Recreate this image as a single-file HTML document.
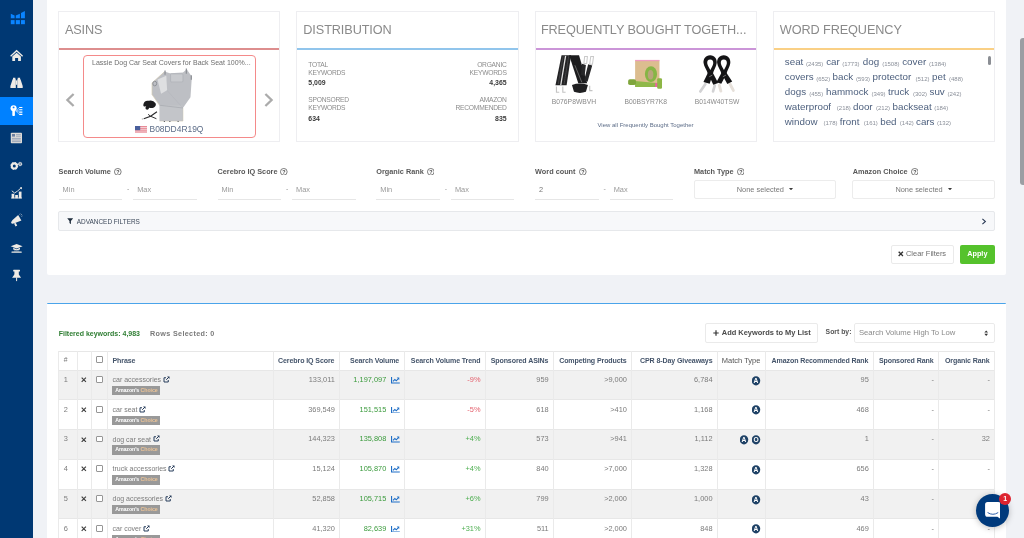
<!DOCTYPE html>
<html lang="en">
<head>
<meta charset="utf-8">
<title>Cerebro</title>
<style>
*{box-sizing:border-box;margin:0;padding:0}
html,body{width:1024px;height:538px;overflow:hidden;background:#f0f2f6;font-family:"Liberation Sans",sans-serif;color:#555;-webkit-font-smoothing:antialiased}
#wrap{position:absolute;left:0;top:0;width:1024px;height:538px;overflow:hidden;filter:blur(0.3px);will-change:transform}
.abs{position:absolute}
#side{position:absolute;left:0;top:0;width:33px;height:538px;background:#003873}
#side .act{position:absolute;left:0;top:97px;width:33px;height:28px;background:#0081ff}
#side svg{position:absolute;left:0;top:0}
#p1{position:absolute;left:47px;top:-3px;width:959px;height:277.6px;background:#fff;border-radius:2px}
#p2{position:absolute;left:47px;top:303px;width:959px;height:240px;background:#fff;border-top:1px solid #4aa4ea;border-radius:1px 1px 0 0}
.card{position:absolute;top:11px;width:222px;height:131px;background:#fff;border:1px solid #eeeef1}
.card h3{position:absolute;left:5.3px;top:11px;font-size:12.7px;font-weight:400;color:#8a8a8a;white-space:nowrap;letter-spacing:-0.1px}
.card .bar{position:absolute;left:0;right:0;top:36px;height:2px}
.t{position:absolute;white-space:nowrap;line-height:1}

.lbl{position:absolute;font-size:6.7px;line-height:8px;color:#8c8c8c;white-space:nowrap;letter-spacing:-0.25px}
.val{position:absolute;font-size:6.9px;font-weight:700;color:#3a3a3a;white-space:nowrap;line-height:1}
.r{text-align:right}
.asin{position:absolute;font-size:6.75px;color:#8a8a8a;white-space:nowrap;line-height:1;text-align:center;width:60px}
.ww{position:absolute;font-weight:400;font-size:9.8px;color:#4c5f7d;white-space:nowrap;line-height:1}
.wn{position:absolute;font-style:normal;font-size:6px;color:#8a8f99;white-space:nowrap;line-height:1}
.wf{position:absolute;left:785px;font-size:10.1px;color:#4c5f7d;white-space:nowrap;line-height:1;word-spacing:-0.5px}
.wf i{font-style:normal;font-size:6px;color:#8a8f99;position:relative;top:-0.3px;margin:0 1px 0 2px}

.fl{position:absolute;top:167.8px;font-size:7.3px;font-weight:700;color:#585858;white-space:nowrap;line-height:1}
.q{position:absolute;top:167.5px;width:7.5px;height:7.5px;border:0.8px solid #555;border-radius:50%;font-size:5.5px;line-height:6.1px;text-align:center;color:#444;font-weight:700}
.inp{position:absolute;top:182px;height:17.6px;width:63.5px;border-bottom:1px solid #e6e6e6;font-size:7.4px;color:#999;line-height:15.3px;padding-left:4px}
.dash{position:absolute;top:185.2px;font-size:7px;color:#999;line-height:1}
.sel{position:absolute;top:180px;height:19px;width:142.5px;border:1px solid #ececec;border-radius:2px;font-size:7.4px;color:#777;line-height:17.5px;text-align:center;background:#fff}
.btn{position:absolute;border:1px solid #eaeaea;border-radius:2px;background:#fff;white-space:nowrap}

.th{position:absolute;top:356.7px;font-size:7.05px;font-weight:700;color:#44546a;white-space:nowrap;line-height:1;letter-spacing:-0.1px}
.row{position:absolute;left:58.3px;width:936.4px;height:29.75px;border-top:1px solid #e7e7e7}
.row.o{background:#f1f1f1}
.c{position:absolute;top:5.4px;font-size:7.4px;color:#7b7b7b;white-space:nowrap;line-height:1}
.c.ph{font-size:7px;top:5.6px}
.c.g{color:#3a9a3c}.c.rd{color:#e4606d}.c.gr{color:#4cae4f}
.vl{position:absolute;top:350.7px;width:1px;height:190px;background:#eaeaea}
.cb{position:absolute;width:6.6px;height:6.6px;border:0.8px solid #969696;border-radius:1px;background:#fff}
.bdg{position:absolute;left:54.2px;top:15.3px;width:47.8px;height:9.4px;background:#999;font-size:5.3px;font-weight:700;color:#fff;line-height:9.4px;text-align:center;white-space:nowrap;letter-spacing:-0.1px}
.bdg span{color:#ebc397}
.mt{position:absolute;top:5.2px;width:8.6px;height:9.4px;border-radius:50%;background:#1f4266;color:#fff;font-size:6.9px;font-weight:700;line-height:9.6px;text-align:center}
</style>
</head>
<body>
<div id="wrap">
<div id="side">
  <div class="act"></div>
  <svg width="33" height="300" viewBox="0 0 33 300">
    <!-- logo -->
    <g fill="#0a84ff">
      <rect x="10.8" y="20.1" width="3.8" height="4.1"/><rect x="15.8" y="20.1" width="4.1" height="4.1"/><rect x="21" y="20.1" width="3.9" height="4.1"/>
      <path d="M10.8 13.8 L14.6 15.6 V18.2 H10.8 Z"/><path d="M15.8 15.6 L19.9 13.8 V18.2 H15.8 Z"/><path d="M21 13 L24.9 11 V18.2 H21 Z"/>
    </g>
    <g fill="#efebe6" stroke="none">
      <!-- home -->
      <path d="M10.6 56.2 L16.6 50.7 L22.6 56.2" fill="none" stroke="#efebe6" stroke-width="1.3"/>
      <path d="M12.3 56.6 L16.6 52.8 L20.9 56.6 V61 H18.1 V57.9 H15.1 V61 H12.3 Z"/>
      <!-- binoculars -->
      <path d="M13 77.7 h2.4 v1.6 h0.4 v8.8 h-5.4 v-2 l2.2 -6.8 h0.4 Z"/>
      <path d="M20.1 77.7 h-2.4 v1.6 h-0.4 v8.8 h5.4 v-2 l-2.2 -6.8 h-0.4 Z"/>
      <rect x="15.8" y="80.4" width="1.5" height="4.4"/>
      <!-- key -->
      <circle cx="13.6" cy="108.3" r="3.05" fill="#fff"/>
      <rect x="12.3" y="110" width="2.6" height="5.9" rx="0.7" fill="#fff"/>
      <circle cx="13.6" cy="107.4" r="0.95" fill="#0081ff"/>
      <path d="M15.8 111 L19.4 107.6 M15.8 111 L19.4 109.9 M15.8 111 L19.4 112.2 M15.8 111 L19.4 114.5" stroke="#a9d3ff" stroke-width="0.7" fill="none"/>
      <path d="M19.2 107.5 H22.4 M19.2 109.8 H22.4 M19.2 112.1 H22.4 M19.2 114.4 H22.4" stroke="#fff" stroke-width="1.1" fill="none"/>
      <!-- newspaper -->
      <rect x="10.8" y="132.7" width="11.2" height="10.6" rx="0.8" fill="#dcdad7"/>
      <rect x="12" y="134" width="3" height="2.6" fill="#6b7f9f"/>
      <path d="M16 134.6 H20.8 M16 136.2 H20.8 M12 138.4 H20.8 M12 140 H20.8 M12 141.6 H20.8" stroke="#8b9ab3" stroke-width="0.8" fill="none"/>
      <!-- gears -->
      <circle cx="14.3" cy="165.9" r="2.55" fill="none" stroke="#efebe6" stroke-width="2.1"/>
      <circle cx="14.3" cy="165.9" r="3.3" fill="none" stroke="#efebe6" stroke-width="1.2" stroke-dasharray="1.3 1.29"/>
      <circle cx="20.1" cy="164" r="1.3" fill="none" stroke="#efebe6" stroke-width="1.1"/>
      <circle cx="20.1" cy="164" r="1.8" fill="none" stroke="#efebe6" stroke-width="0.7" stroke-dasharray="0.7 0.71"/>
      <!-- chart -->
      <rect x="11.6" y="193.8" width="2.7" height="4.5"/><rect x="15.2" y="195" width="2.7" height="3.3"/><rect x="18.8" y="191.6" width="2.7" height="6.7"/>
      <rect x="11.1" y="197.6" width="10.9" height="0.8"/>
      <path d="M11.8 190.8 L14.6 193 L17.6 191 L21.2 187.8" fill="none" stroke="#efebe6" stroke-width="0.9"/>
      <path d="M19.8 187.2 H22 V189.4 Z"/>
      <!-- megaphone -->
      <path d="M12 220.4 L18.2 215 L21.4 220.6 L13.8 223.6 Z"/>
      <path d="M14 223.6 L15.6 226.4 L17.2 225.5 L15.8 222.9 Z"/>
      <circle cx="12.6" cy="222.4" r="1.4"/>
      <path d="M19.6 214.6 l0.6 -1 M21.4 216.4 l1 -0.5 M20.8 215.2 l1 -1" stroke="#efebe6" stroke-width="0.6"/>
      <!-- grad cap -->
      <path d="M16.6 243.9 L22.6 246.2 L16.6 248.5 L10.7 246.2 Z"/>
      <path d="M13.2 247.8 L16.6 249.2 L20 247.8 V249.6 Q16.6 251 13.2 249.6 Z"/>
      <rect x="11.4" y="251.5" width="10.4" height="1.2" rx="0.4"/>
      <rect x="14" y="250.6" width="5.2" height="0.7" opacity=".7"/>
      <!-- pin -->
      <rect x="13.2" y="269.8" width="6.8" height="1.7" rx="0.5"/>
      <rect x="14.4" y="271" width="4.4" height="4.4"/>
      <path d="M14.4 274.6 H18.8 L21.1 277.7 H12.1 Z"/>
      <rect x="16.1" y="277.4" width="1" height="3.7"/>
    </g>
  </svg>
</div>
<div id="p1">
</div>
<!-- CARDS -->
<div class="card" style="left:58px"><h3 style="left:5.9px">ASINS</h3><div class="bar" style="background:#dd8e8e"></div></div>
<div class="card" style="left:296px;width:222.6px"><h3 style="left:6.3px">DISTRIBUTION</h3><div class="bar" style="background:#91c5ec"></div></div>
<div class="card" style="left:535px"><h3 style="left:4.9px">FREQUENTLY BOUGHT TOGETH...</h3><div class="bar" style="background:#cb95d8"></div></div>
<div class="card" style="left:773px"><h3 style="left:5.8px">WORD FREQUENCY</h3><div class="bar" style="background:#fad085"></div></div>

<!-- ASIN card content -->
<div class="abs" style="left:83px;top:55px;width:173px;height:83px;border:1px solid #f48a8a;border-radius:4px"></div>
<div class="t" style="left:92px;top:58.9px;font-size:7.03px;color:#6f6f6f">Lassie Dog Car Seat Covers for Back Seat 100%...</div>
<svg class="abs" style="left:64px;top:91px" width="14" height="18" viewBox="0 0 14 18"><path d="M9.6 3 L3.4 9 L9.6 15" fill="none" stroke="#ababab" stroke-width="2.3"/></svg>
<svg class="abs" style="left:261px;top:91px" width="14" height="18" viewBox="0 0 14 18"><path d="M4.4 3 L10.6 9 L4.4 15" fill="none" stroke="#ababab" stroke-width="2.3"/></svg>
<svg class="abs" style="left:130px;top:64px" width="80" height="74" viewBox="0 0 582 538">
  <path d="M250 55 L290 68 L385 62 L413 38 L450 92 L440 242 L385 320 L385 415 L215 415 L215 300 L160 222 L160 138 Z" fill="#bdbfc4"/>
  <path d="M160 138 L250 58 M160 222 L215 300 M160 138 V222" stroke="#d6cdb6" stroke-width="5" fill="none"/>
  <path d="M385 320 V415 H215" stroke="#cfc6a8" stroke-width="4" fill="none"/>
  <path d="M200 112 L264 86 L270 190 L226 216 Z" fill="#dedfe1"/>
  <rect x="295" y="72" width="90" height="58" rx="6" fill="#c8cace" stroke="#a9acb2" stroke-width="4"/>
  <rect x="217" y="302" width="166" height="111" fill="#c3c5c9"/>
  <path d="M215 300 L385 320" stroke="#a5a8ae" stroke-width="5"/>
  <path d="M268 190 L385 320" stroke="#aaadb3" stroke-width="4" opacity=".55"/>
  <path d="M255 48 v30 M410 33 v38 M446 82 v32" stroke="#8d9096" stroke-width="9"/>
  <path d="M250 415 v6 M290 415 v6 M350 415 v6" stroke="#55585e" stroke-width="8"/>
  <ellipse cx="180" cy="142" rx="14" ry="17" fill="none" stroke="#8d9096" stroke-width="7"/>
  <path d="M98 290 q10 -30 40 -22 q30 -8 48 18 q8 18 -12 30 q-18 8 -34 2 q-8 22 -26 10 q-4 -12 4 -20 q-26 6 -20 -18z" fill="#1d1d1f"/>
  <path d="M100 398 L150 380 L196 348" stroke="#2a2a2c" stroke-width="9" fill="none"/>
  <path d="M150 380 l42 18 M150 380 l-18 -14" stroke="#2a2a2c" stroke-width="7"/>
  <path d="M96 398 l-10 4" stroke="#b5b5b5" stroke-width="8"/>
</svg>
<svg class="abs" style="left:135px;top:125.5px" width="12" height="7.6" viewBox="0 0 12 7.6"><rect width="12" height="7.6" fill="#e88b97"/><rect y="1.1" width="12" height="1" fill="#f6d5d9"/><rect y="3.3" width="12" height="1" fill="#f6d5d9"/><rect y="5.5" width="12" height="1" fill="#f6d5d9"/><rect width="5.2" height="4.2" fill="#4a5f9c"/></svg>
<div class="t" style="left:149.5px;top:125px;font-size:8.45px;color:#5d6d88">B08DD4R19Q</div>

<!-- DISTRIBUTION content -->
<div class="lbl" style="left:308.3px;top:60.5px">TOTAL<br>KEYWORDS</div>
<div class="val" style="left:308.3px;top:79.6px">5,009</div>
<div class="lbl" style="left:308.3px;top:96.2px">SPONSORED<br>KEYWORDS</div>
<div class="val" style="left:308.3px;top:116px">634</div>
<div class="lbl r" style="right:517.4px;top:60.5px">ORGANIC<br>KEYWORDS</div>
<div class="val r" style="right:517.4px;top:79.6px">4,365</div>
<div class="lbl r" style="right:517.4px;top:96.2px">AMAZON<br>RECOMMENDED</div>
<div class="val r" style="right:517.4px;top:116px">835</div>

<!-- FBT content -->
<svg class="abs" style="left:545px;top:50px" width="130" height="60" viewBox="0 0 1024 473">
  <path d="M130 42 L205 42 L170 278 L82 278 Z" fill="#232325"/>
  <path d="M162 46 L124 276" stroke="#e4e4e4" stroke-width="10"/><path d="M142 52 L104 268 M186 52 L150 268" stroke="#8e8e90" stroke-width="5" stroke-dasharray="7 9"/><path d="M214 60 L284 252 M250 60 L312 246" stroke="#77777a" stroke-width="4" stroke-dasharray="7 9"/>
  <path d="M190 42 L268 42 L332 262 L262 262 Z" fill="#1c1c1e"/>
  <path d="M235 120 L290 255" stroke="#8a8a8a" stroke-width="5"/>
  <path d="M292 108 L322 118 L312 205 L282 195 Z M340 112 L372 122 L335 250 L308 240 Z" fill="#262628"/>
  <path d="M312 52 l22 0 l-6 55 l-22 0z M360 52 l22 0 l-8 60 l-22 0z" fill="none" stroke="#c9c9c9" stroke-width="8"/>
  <path d="M90 288 v45 h22 M140 288 v45 h22 M352 282 v38 h22" fill="none" stroke="#c4c4c4" stroke-width="9"/>
  <path d="M212 275 Q275 255 338 275 L322 330 Q275 348 228 330 Z" fill="#1f1f21"/>
  <rect x="710" y="80" width="192" height="212" rx="4" fill="#dcbd8f"/>
  <rect x="710" y="78" width="192" height="10" fill="#ee9cc0"/>
  <path d="M710 245 L902 262 L902 292 L710 292 Z" fill="#8fb84a"/>
  <ellipse cx="835" cy="190" rx="48" ry="62" fill="#86b545"/>
  <ellipse cx="832" cy="195" rx="22" ry="38" fill="#b7a57a"/>
  <path d="M868 262 l34 -8 v38 h-34z" fill="#ec5fa3"/>
  <rect x="655" y="230" width="62" height="46" rx="14" fill="#7fa53c"/>
  <rect x="884" y="222" width="38" height="84" rx="10" fill="#8db645"/>
</svg>
<svg class="abs" style="left:680px;top:50px" width="80" height="60" viewBox="0 0 717 538">
  <g stroke="#d2d2d4" stroke-width="24" stroke-linecap="round" fill="none">
    <path d="M228 305 L182 372"/><path d="M312 318 L296 372"/>
  </g>
  <g stroke="#e6e0da" stroke-width="26" stroke-linecap="round" fill="none">
    <path d="M352 315 L366 368"/><path d="M448 305 L478 362"/>
  </g>
  <g fill="#141416" fill-rule="evenodd">
    <path d="M270 46 C312 46 332 80 329 116 C326 152 300 180 294 216 L250 216 C244 180 214 152 211 116 C208 80 228 46 270 46 Z M270 86 C290 86 300 100 298 118 C296 140 280 160 272 180 C264 160 246 140 244 118 C242 100 250 86 270 86 Z"/>
    <path d="M392 46 C434 46 454 80 451 116 C448 152 422 180 416 216 L372 216 C366 180 336 152 333 116 C330 80 350 46 392 46 Z M392 86 C412 86 422 100 420 118 C418 140 402 160 394 180 C386 160 368 140 366 118 C364 100 372 86 392 86 Z"/>
    <path d="M250 205 L294 216 L266 302 L210 288 Z"/>
    <path d="M254 216 L294 205 L342 296 L298 312 Z"/>
    <path d="M372 205 L416 216 L370 302 L326 290 Z"/>
    <path d="M376 216 L416 205 L468 282 L424 304 Z"/>
  </g>
  <path d="M262 240 L290 225 M384 240 L412 225" stroke="#9a9a9c" stroke-width="6"/>
</svg>
<div class="asin" style="left:544px;top:98.5px">B076P8WBVH</div>
<div class="asin" style="left:615.7px;top:98.5px">B00BSYR7K8</div>
<div class="asin" style="left:687px;top:98.5px">B014W40TSW</div>
<div class="t" style="left:545.5px;top:121.7px;width:200px;text-align:center;font-size:6px;color:#5d6d88">View all Frequently Bought Together</div>

<!-- WORD FREQUENCY content -->
<b class="ww" style="left:784.8px;top:57.3px">seat</b><i class="wn" style="left:806.0px;top:60.8px">(2435)</i><b class="ww" style="left:826.2px;top:57.3px">car</b><i class="wn" style="left:842.2px;top:60.8px">(1773)</i><b class="ww" style="left:862.8px;top:57.3px">dog</b><i class="wn" style="left:882.2px;top:60.8px">(1508)</i><b class="ww" style="left:902.2px;top:57.3px">cover</b><i class="wn" style="left:929.0px;top:60.8px">(1384)</i>
<b class="ww" style="left:784.8px;top:72.2px">covers</b><i class="wn" style="left:816.2px;top:75.7px">(652)</i><b class="ww" style="left:832.5px;top:72.2px">back</b><i class="wn" style="left:856.0px;top:75.7px">(593)</i><b class="ww" style="left:872.5px;top:72.2px">protector</b><i class="wn" style="left:915.5px;top:75.7px">(512)</i><b class="ww" style="left:932.0px;top:72.2px">pet</b><i class="wn" style="left:949.0px;top:75.7px">(488)</i>
<b class="ww" style="left:784.8px;top:87.1px">dogs</b><i class="wn" style="left:809.2px;top:90.6px">(455)</i><b class="ww" style="left:826.0px;top:87.1px">hammock</b><i class="wn" style="left:871.5px;top:90.6px">(349)</i><b class="ww" style="left:888.0px;top:87.1px">truck</b><i class="wn" style="left:913.0px;top:90.6px">(302)</i><b class="ww" style="left:929.5px;top:87.1px">suv</b><i class="wn" style="left:947.5px;top:90.6px">(242)</i>
<b class="ww" style="left:784.8px;top:101.9px">waterproof</b><i class="wn" style="left:836.8px;top:105.4px">(218)</i><b class="ww" style="left:853.0px;top:101.9px">door</b><i class="wn" style="left:876.0px;top:105.4px">(212)</i><b class="ww" style="left:892.5px;top:101.9px">backseat</b><i class="wn" style="left:934.2px;top:105.4px">(184)</i>
<b class="ww" style="left:784.8px;top:116.7px">window</b><i class="wn" style="left:823.5px;top:120.2px">(178)</i><b class="ww" style="left:839.8px;top:116.7px">front</b><i class="wn" style="left:863.8px;top:120.2px">(161)</i><b class="ww" style="left:880.2px;top:116.7px">bed</b><i class="wn" style="left:899.8px;top:120.2px">(142)</i><b class="ww" style="left:916.0px;top:116.7px">cars</b><i class="wn" style="left:937.0px;top:120.2px">(132)</i>
<div class="abs" style="left:988px;top:55.5px;width:3.4px;height:9px;background:#8b8e94;border-radius:1.7px"></div>
<!-- FILTERS -->
<div class="fl" style="left:58.6px">Search Volume</div>
<div class="inp" style="left:58.6px">Min</div><div class="dash" style="left:127.1px">-</div><div class="inp" style="left:133.2px">Max</div>
<div class="fl" style="left:217.5px">Cerebro IQ Score</div>
<div class="inp" style="left:217.5px">Min</div><div class="dash" style="left:286.0px">-</div><div class="inp" style="left:292.1px">Max</div>
<div class="fl" style="left:376.3px">Organic Rank</div>
<div class="inp" style="left:376.3px">Min</div><div class="dash" style="left:444.8px">-</div><div class="inp" style="left:450.9px">Max</div>
<div class="fl" style="left:535.1px">Word count</div>
<div class="inp" style="left:535.1px"><span style="color:#777">2</span></div><div class="dash" style="left:603.6px">-</div><div class="inp" style="left:609.7px">Max</div>
<div class="fl" style="left:694px">Match Type</div><div class="sel" style="left:693.7px">None selected<svg width="4" height="2.4" viewBox="0 0 4 2.4" style="margin-left:5.2px;position:relative;top:-1.6px"><path d="M0 0 H4 L2 2.4 Z" fill="#3c3c3c"/></svg></div>
<div class="fl" style="left:852.8px">Amazon Choice</div><div class="sel" style="left:852.4px">None selected<svg width="4" height="2.4" viewBox="0 0 4 2.4" style="margin-left:5.2px;position:relative;top:-1.6px"><path d="M0 0 H4 L2 2.4 Z" fill="#3c3c3c"/></svg></div>
<svg class="abs" style="left:114.1px;top:167.7px" width="7.6" height="7.6" viewBox="0 0 7.6 7.6"><circle cx="3.8" cy="3.8" r="3.35" fill="none" stroke="#555" stroke-width="0.75"/><text x="3.8" y="5.7" font-size="5.4" font-weight="700" text-anchor="middle" fill="#444" font-family="Liberation Sans, sans-serif">?</text></svg>
<svg class="abs" style="left:280.0px;top:167.7px" width="7.6" height="7.6" viewBox="0 0 7.6 7.6"><circle cx="3.8" cy="3.8" r="3.35" fill="none" stroke="#555" stroke-width="0.75"/><text x="3.8" y="5.7" font-size="5.4" font-weight="700" text-anchor="middle" fill="#444" font-family="Liberation Sans, sans-serif">?</text></svg>
<svg class="abs" style="left:426.6px;top:167.7px" width="7.6" height="7.6" viewBox="0 0 7.6 7.6"><circle cx="3.8" cy="3.8" r="3.35" fill="none" stroke="#555" stroke-width="0.75"/><text x="3.8" y="5.7" font-size="5.4" font-weight="700" text-anchor="middle" fill="#444" font-family="Liberation Sans, sans-serif">?</text></svg>
<svg class="abs" style="left:579.3px;top:167.7px" width="7.6" height="7.6" viewBox="0 0 7.6 7.6"><circle cx="3.8" cy="3.8" r="3.35" fill="none" stroke="#555" stroke-width="0.75"/><text x="3.8" y="5.7" font-size="5.4" font-weight="700" text-anchor="middle" fill="#444" font-family="Liberation Sans, sans-serif">?</text></svg>
<svg class="abs" style="left:736.8px;top:167.7px" width="7.6" height="7.6" viewBox="0 0 7.6 7.6"><circle cx="3.8" cy="3.8" r="3.35" fill="none" stroke="#555" stroke-width="0.75"/><text x="3.8" y="5.7" font-size="5.4" font-weight="700" text-anchor="middle" fill="#444" font-family="Liberation Sans, sans-serif">?</text></svg>
<svg class="abs" style="left:910.5px;top:167.7px" width="7.6" height="7.6" viewBox="0 0 7.6 7.6"><circle cx="3.8" cy="3.8" r="3.35" fill="none" stroke="#555" stroke-width="0.75"/><text x="3.8" y="5.7" font-size="5.4" font-weight="700" text-anchor="middle" fill="#444" font-family="Liberation Sans, sans-serif">?</text></svg>
<div class="abs" style="left:58.3px;top:211.3px;width:936.5px;height:20px;background:#f7f8fa;border:1px solid #e6e8eb;border-radius:2px"></div>
<svg class="abs" style="left:67px;top:218px" width="6.4" height="6.4" viewBox="0 0 16 16"><path d="M0.5 0.5 H15.5 L9.8 7.5 V15.5 L6.2 12.8 V7.5 Z" fill="#1f2d3d"/></svg>
<div class="t" style="left:76.7px;top:218.6px;font-size:6.46px;color:#3b4859">ADVANCED FILTERS</div>
<svg class="abs" style="left:981px;top:217.5px" width="6" height="7" viewBox="0 0 6 7"><path d="M1.4 0.8 L4.4 3.5 L1.4 6.2" fill="none" stroke="#2a3a55" stroke-width="1.1"/></svg>
<div class="btn" style="left:891px;top:245.2px;width:63px;height:18.6px"></div>
<svg class="abs" style="left:898.4px;top:251.2px" width="5.6" height="5.6" viewBox="0 0 10 10"><path d="M1.2 1.2 L8.8 8.8 M8.8 1.2 L1.2 8.8" stroke="#333" stroke-width="2.4"/></svg>
<div class="t" style="left:906px;top:250px;font-size:7.45px;color:#6d6d6d">Clear Filters</div>
<div class="abs" style="left:960px;top:245px;width:34.8px;height:19px;background:#55c22c;border-radius:2px"></div>
<div class="t" style="left:967.2px;top:250px;font-size:7.3px;font-weight:700;color:#fff">Apply</div>
<div id="p2"></div>
<!-- TABLE -->
<div class="t" style="left:58.7px;top:330.2px;font-size:7.0px;font-weight:700;color:#2e7d32">Filtered keywords: 4,983</div>
<div class="t" style="left:150px;top:330.2px;font-size:7.2px;font-weight:700;color:#7a7a7a;letter-spacing:0.35px">Rows Selected: 0</div>
<div class="btn" style="left:705px;top:323px;width:113px;height:19.6px"></div>
<svg class="abs" style="left:713px;top:329.6px" width="6" height="6" viewBox="0 0 10 10"><path d="M5 0.5 V9.5 M0.5 5 H9.5" stroke="#333" stroke-width="2"/></svg>
<div class="t" style="left:721.8px;top:329.2px;font-size:7.45px;font-weight:700;color:#4a4a4a">Add Keywords to My List</div>
<div class="t" style="left:825.6px;top:329.4px;font-size:6.85px;font-weight:700;color:#555">Sort by:</div>
<div class="btn" style="left:854.4px;top:323px;width:140.4px;height:19.6px"></div>
<div class="t" style="left:858.9px;top:329.3px;font-size:7.7px;color:#8a8a8a">Search Volume High To Low</div>
<svg class="abs" style="left:984.4px;top:329.8px" width="4.4" height="6.4" viewBox="0 0 8 12"><path d="M0.5 4.8 L4 0.8 L7.5 4.8 Z M0.5 7.2 L4 11.2 L7.5 7.2 Z" fill="#333"/></svg>
<div class="abs" style="left:58.3px;top:350.7px;width:936.4px;height:19.6px;border-top:1px solid #e7e7e7;background:#fff"></div>
<div class="th" style="left:63.8px;font-size:6.8px;font-weight:400;color:#777">#</div>
<div class="th" style="left:112.5px">Phrase</div>
<div class="th" style="right:689.60px">Cerebro IQ Score</div>
<div class="th" style="right:624.85px">Search Volume</div>
<div class="th" style="right:543.50px">Search Volume Trend</div>
<div class="th" style="right:475.60px">Sponsored ASINs</div>
<div class="th" style="right:397.35px">Competing Products</div>
<div class="th" style="right:311.50px">CPR 8-Day Giveaways</div>
<div class="th" style="right:263.60px;font-weight:400;color:#555;font-size:7.5px;letter-spacing:0">Match Type</div>
<div class="th" style="right:155.70px">Amazon Recommended Rank</div>
<div class="th" style="right:90.50px">Sponsored Rank</div>
<div class="th" style="right:34.40px">Organic Rank</div>
<div class="cb" style="left:96.2px;top:356.1px"></div>
<div class="row o" style="top:369.60px"><div class="c" style="left:5.5px">1</div><svg class="abs" style="left:22.9px;top:6.6px" width="5.6" height="5.6" viewBox="0 0 10 10"><path d="M1.2 1.2 L8.8 8.8 M8.8 1.2 L1.2 8.8" stroke="#3d3d3d" stroke-width="2.05"/></svg><div class="cb" style="left:37.9px;top:5.6px"></div><div class="c ph" style="left:54.2px">car accessories<svg class="ext" width="7" height="7" viewBox="0 0 14 14" style="position:absolute;top:-0.3px;margin-left:1.6px"><path d="M10.5 8 V12 H2 V3.5 H6" fill="none" stroke="#1f3554" stroke-width="1.9"/><path d="M8.2 1 H13 V5.8 Z" fill="#1f3554"/><path d="M12 2 L6.5 7.5" stroke="#1f3554" stroke-width="2"/></svg></div><div class="bdg">Amazon's <span>Choice</span></div><div class="c" style="right:659.80px">133,011</div><div class="c g" style="right:608.45px">1,197,097</div><svg class="abs" style="left:332.5px;top:6.4px" width="8.8" height="6.6" viewBox="0 0 16 12"><path d="M1 0 V11 H16" fill="none" stroke="#1f6fc7" stroke-width="2"/><path d="M3.5 8 L7 4.5 L9.5 7 L14 2.5" fill="none" stroke="#1f6fc7" stroke-width="2"/><path d="M10.5 1 H15 V5.5 Z" fill="#1f6fc7"/></svg><div class="c rd" style="right:514.20px">-9%</div><div class="c" style="right:446.00px">959</div><div class="c" style="right:367.75px">>9,000</div><div class="c" style="right:282.20px">6,784</div><svg class="abs" style="left:693.5px;top:5px" width="9" height="10" viewBox="0 0 9 10"><ellipse cx="4.0" cy="4.85" rx="4.25" ry="4.6" fill="#1f4266"/><text x="4.0" y="7.25" font-size="6.7" font-weight="700" text-anchor="middle" fill="#fff" font-family="Liberation Sans, sans-serif">A</text></svg><div class="c" style="right:125.90px">95</div><div class="c" style="right:60.70px">-</div><div class="c" style="right:4.80px">-</div></div>
<div class="row" style="top:399.35px"><div class="c" style="left:5.5px">2</div><svg class="abs" style="left:22.9px;top:6.6px" width="5.6" height="5.6" viewBox="0 0 10 10"><path d="M1.2 1.2 L8.8 8.8 M8.8 1.2 L1.2 8.8" stroke="#3d3d3d" stroke-width="2.05"/></svg><div class="cb" style="left:37.9px;top:5.6px"></div><div class="c ph" style="left:54.2px">car seat<svg class="ext" width="7" height="7" viewBox="0 0 14 14" style="position:absolute;top:-0.3px;margin-left:1.6px"><path d="M10.5 8 V12 H2 V3.5 H6" fill="none" stroke="#1f3554" stroke-width="1.9"/><path d="M8.2 1 H13 V5.8 Z" fill="#1f3554"/><path d="M12 2 L6.5 7.5" stroke="#1f3554" stroke-width="2"/></svg></div><div class="bdg">Amazon's <span>Choice</span></div><div class="c" style="right:659.80px">369,549</div><div class="c g" style="right:608.45px">151,515</div><svg class="abs" style="left:332.5px;top:6.4px" width="8.8" height="6.6" viewBox="0 0 16 12"><path d="M1 0 V11 H16" fill="none" stroke="#1f6fc7" stroke-width="2"/><path d="M3.5 8 L7 4.5 L9.5 7 L14 2.5" fill="none" stroke="#1f6fc7" stroke-width="2"/><path d="M10.5 1 H15 V5.5 Z" fill="#1f6fc7"/></svg><div class="c rd" style="right:514.20px">-5%</div><div class="c" style="right:446.00px">618</div><div class="c" style="right:367.75px">>410</div><div class="c" style="right:282.20px">1,168</div><svg class="abs" style="left:693.5px;top:5px" width="9" height="10" viewBox="0 0 9 10"><ellipse cx="4.0" cy="4.85" rx="4.25" ry="4.6" fill="#1f4266"/><text x="4.0" y="7.25" font-size="6.7" font-weight="700" text-anchor="middle" fill="#fff" font-family="Liberation Sans, sans-serif">A</text></svg><div class="c" style="right:125.90px">468</div><div class="c" style="right:60.70px">-</div><div class="c" style="right:4.80px">-</div></div>
<div class="row o" style="top:429.10px"><div class="c" style="left:5.5px">3</div><svg class="abs" style="left:22.9px;top:6.6px" width="5.6" height="5.6" viewBox="0 0 10 10"><path d="M1.2 1.2 L8.8 8.8 M8.8 1.2 L1.2 8.8" stroke="#3d3d3d" stroke-width="2.05"/></svg><div class="cb" style="left:37.9px;top:5.6px"></div><div class="c ph" style="left:54.2px">dog car seat<svg class="ext" width="7" height="7" viewBox="0 0 14 14" style="position:absolute;top:-0.3px;margin-left:1.6px"><path d="M10.5 8 V12 H2 V3.5 H6" fill="none" stroke="#1f3554" stroke-width="1.9"/><path d="M8.2 1 H13 V5.8 Z" fill="#1f3554"/><path d="M12 2 L6.5 7.5" stroke="#1f3554" stroke-width="2"/></svg></div><div class="bdg">Amazon's <span>Choice</span></div><div class="c" style="right:659.80px">144,323</div><div class="c g" style="right:608.45px">135,808</div><svg class="abs" style="left:332.5px;top:6.4px" width="8.8" height="6.6" viewBox="0 0 16 12"><path d="M1 0 V11 H16" fill="none" stroke="#1f6fc7" stroke-width="2"/><path d="M3.5 8 L7 4.5 L9.5 7 L14 2.5" fill="none" stroke="#1f6fc7" stroke-width="2"/><path d="M10.5 1 H15 V5.5 Z" fill="#1f6fc7"/></svg><div class="c gr" style="right:514.20px">+4%</div><div class="c" style="right:446.00px">573</div><div class="c" style="right:367.75px">>941</div><div class="c" style="right:282.20px">1,112</div><svg class="abs" style="left:681.3px;top:5px" width="9" height="10" viewBox="0 0 9 10"><ellipse cx="4.0" cy="4.85" rx="4.25" ry="4.6" fill="#1f4266"/><text x="4.0" y="7.25" font-size="6.7" font-weight="700" text-anchor="middle" fill="#fff" font-family="Liberation Sans, sans-serif">A</text></svg><svg class="abs" style="left:693.5px;top:5px" width="9" height="10" viewBox="0 0 9 10"><ellipse cx="4.0" cy="4.85" rx="4.25" ry="4.6" fill="#1f4266"/><text x="4.0" y="7.25" font-size="6.7" font-weight="700" text-anchor="middle" fill="#fff" font-family="Liberation Sans, sans-serif">O</text></svg><div class="c" style="right:125.90px">1</div><div class="c" style="right:60.70px">-</div><div class="c" style="right:4.80px">32</div></div>
<div class="row" style="top:458.85px"><div class="c" style="left:5.5px">4</div><svg class="abs" style="left:22.9px;top:6.6px" width="5.6" height="5.6" viewBox="0 0 10 10"><path d="M1.2 1.2 L8.8 8.8 M8.8 1.2 L1.2 8.8" stroke="#3d3d3d" stroke-width="2.05"/></svg><div class="cb" style="left:37.9px;top:5.6px"></div><div class="c ph" style="left:54.2px">truck accessories<svg class="ext" width="7" height="7" viewBox="0 0 14 14" style="position:absolute;top:-0.3px;margin-left:1.6px"><path d="M10.5 8 V12 H2 V3.5 H6" fill="none" stroke="#1f3554" stroke-width="1.9"/><path d="M8.2 1 H13 V5.8 Z" fill="#1f3554"/><path d="M12 2 L6.5 7.5" stroke="#1f3554" stroke-width="2"/></svg></div><div class="bdg">Amazon's <span>Choice</span></div><div class="c" style="right:659.80px">15,124</div><div class="c g" style="right:608.45px">105,870</div><svg class="abs" style="left:332.5px;top:6.4px" width="8.8" height="6.6" viewBox="0 0 16 12"><path d="M1 0 V11 H16" fill="none" stroke="#1f6fc7" stroke-width="2"/><path d="M3.5 8 L7 4.5 L9.5 7 L14 2.5" fill="none" stroke="#1f6fc7" stroke-width="2"/><path d="M10.5 1 H15 V5.5 Z" fill="#1f6fc7"/></svg><div class="c gr" style="right:514.20px">+4%</div><div class="c" style="right:446.00px">840</div><div class="c" style="right:367.75px">>7,000</div><div class="c" style="right:282.20px">1,328</div><svg class="abs" style="left:693.5px;top:5px" width="9" height="10" viewBox="0 0 9 10"><ellipse cx="4.0" cy="4.85" rx="4.25" ry="4.6" fill="#1f4266"/><text x="4.0" y="7.25" font-size="6.7" font-weight="700" text-anchor="middle" fill="#fff" font-family="Liberation Sans, sans-serif">A</text></svg><div class="c" style="right:125.90px">656</div><div class="c" style="right:60.70px">-</div><div class="c" style="right:4.80px">-</div></div>
<div class="row o" style="top:488.60px"><div class="c" style="left:5.5px">5</div><svg class="abs" style="left:22.9px;top:6.6px" width="5.6" height="5.6" viewBox="0 0 10 10"><path d="M1.2 1.2 L8.8 8.8 M8.8 1.2 L1.2 8.8" stroke="#3d3d3d" stroke-width="2.05"/></svg><div class="cb" style="left:37.9px;top:5.6px"></div><div class="c ph" style="left:54.2px">dog accessories<svg class="ext" width="7" height="7" viewBox="0 0 14 14" style="position:absolute;top:-0.3px;margin-left:1.6px"><path d="M10.5 8 V12 H2 V3.5 H6" fill="none" stroke="#1f3554" stroke-width="1.9"/><path d="M8.2 1 H13 V5.8 Z" fill="#1f3554"/><path d="M12 2 L6.5 7.5" stroke="#1f3554" stroke-width="2"/></svg></div><div class="bdg">Amazon's <span>Choice</span></div><div class="c" style="right:659.80px">52,858</div><div class="c g" style="right:608.45px">105,715</div><svg class="abs" style="left:332.5px;top:6.4px" width="8.8" height="6.6" viewBox="0 0 16 12"><path d="M1 0 V11 H16" fill="none" stroke="#1f6fc7" stroke-width="2"/><path d="M3.5 8 L7 4.5 L9.5 7 L14 2.5" fill="none" stroke="#1f6fc7" stroke-width="2"/><path d="M10.5 1 H15 V5.5 Z" fill="#1f6fc7"/></svg><div class="c gr" style="right:514.20px">+6%</div><div class="c" style="right:446.00px">799</div><div class="c" style="right:367.75px">>2,000</div><div class="c" style="right:282.20px">1,000</div><svg class="abs" style="left:693.5px;top:5px" width="9" height="10" viewBox="0 0 9 10"><ellipse cx="4.0" cy="4.85" rx="4.25" ry="4.6" fill="#1f4266"/><text x="4.0" y="7.25" font-size="6.7" font-weight="700" text-anchor="middle" fill="#fff" font-family="Liberation Sans, sans-serif">A</text></svg><div class="c" style="right:125.90px">43</div><div class="c" style="right:60.70px">-</div><div class="c" style="right:4.80px">-</div></div>
<div class="row" style="top:518.35px"><div class="c" style="left:5.5px">6</div><svg class="abs" style="left:22.9px;top:6.6px" width="5.6" height="5.6" viewBox="0 0 10 10"><path d="M1.2 1.2 L8.8 8.8 M8.8 1.2 L1.2 8.8" stroke="#3d3d3d" stroke-width="2.05"/></svg><div class="cb" style="left:37.9px;top:5.6px"></div><div class="c ph" style="left:54.2px">car cover<svg class="ext" width="7" height="7" viewBox="0 0 14 14" style="position:absolute;top:-0.3px;margin-left:1.6px"><path d="M10.5 8 V12 H2 V3.5 H6" fill="none" stroke="#1f3554" stroke-width="1.9"/><path d="M8.2 1 H13 V5.8 Z" fill="#1f3554"/><path d="M12 2 L6.5 7.5" stroke="#1f3554" stroke-width="2"/></svg></div><div class="bdg">Amazon's <span>Choice</span></div><div class="c" style="right:659.80px">41,320</div><div class="c g" style="right:608.45px">82,639</div><svg class="abs" style="left:332.5px;top:6.4px" width="8.8" height="6.6" viewBox="0 0 16 12"><path d="M1 0 V11 H16" fill="none" stroke="#1f6fc7" stroke-width="2"/><path d="M3.5 8 L7 4.5 L9.5 7 L14 2.5" fill="none" stroke="#1f6fc7" stroke-width="2"/><path d="M10.5 1 H15 V5.5 Z" fill="#1f6fc7"/></svg><div class="c gr" style="right:514.20px">+31%</div><div class="c" style="right:446.00px">511</div><div class="c" style="right:367.75px">>2,000</div><div class="c" style="right:282.20px">848</div><svg class="abs" style="left:693.5px;top:5px" width="9" height="10" viewBox="0 0 9 10"><ellipse cx="4.0" cy="4.85" rx="4.25" ry="4.6" fill="#1f4266"/><text x="4.0" y="7.25" font-size="6.7" font-weight="700" text-anchor="middle" fill="#fff" font-family="Liberation Sans, sans-serif">A</text></svg><div class="c" style="right:125.90px">469</div><div class="c" style="right:60.70px">-</div><div class="c" style="right:4.80px">-</div></div>
<div class="vl" style="left:57.80px"></div><div class="vl" style="left:76.50px"></div><div class="vl" style="left:91.25px"></div><div class="vl" style="left:107.00px"></div><div class="vl" style="left:272.50px"></div><div class="vl" style="left:339.00px"></div><div class="vl" style="left:403.75px"></div><div class="vl" style="left:485.10px"></div><div class="vl" style="left:553.00px"></div><div class="vl" style="left:631.25px"></div><div class="vl" style="left:717.10px"></div><div class="vl" style="left:765.00px"></div><div class="vl" style="left:872.90px"></div><div class="vl" style="left:938.10px"></div><div class="vl" style="left:994.20px"></div>
<div class="abs" style="left:976px;top:494px;width:33.4px;height:33.4px;border-radius:50%;background:#003a7c;box-shadow:0 1px 6px rgba(0,0,0,.25)"></div>
<svg class="abs" style="left:984.7px;top:501.8px" width="15.8" height="17.2" viewBox="0 0 16 17.6"><path d="M2.6 0 H13.4 Q16 0 16 2.6 V17.4 L12.6 15.2 H2.6 Q0 15.2 0 12.6 V2.6 Q0 0 2.6 0 Z" fill="#fff"/><path d="M2.9 11 Q8 14.4 13.1 11" fill="none" stroke="#2a5ca8" stroke-width="1" stroke-linecap="round"/></svg>
<div class="abs" style="left:999px;top:492.6px;width:12.2px;height:12.2px;border-radius:50%;background:#dd2430;color:#fff;font-size:7px;font-weight:700;line-height:12.4px;text-align:center">1</div>

<!-- scrollbar -->
<div class="abs" style="left:1020px;top:38px;width:6px;height:147px;background:#9b9ea3;border-radius:3px"></div>
</div>
</body>
</html>
